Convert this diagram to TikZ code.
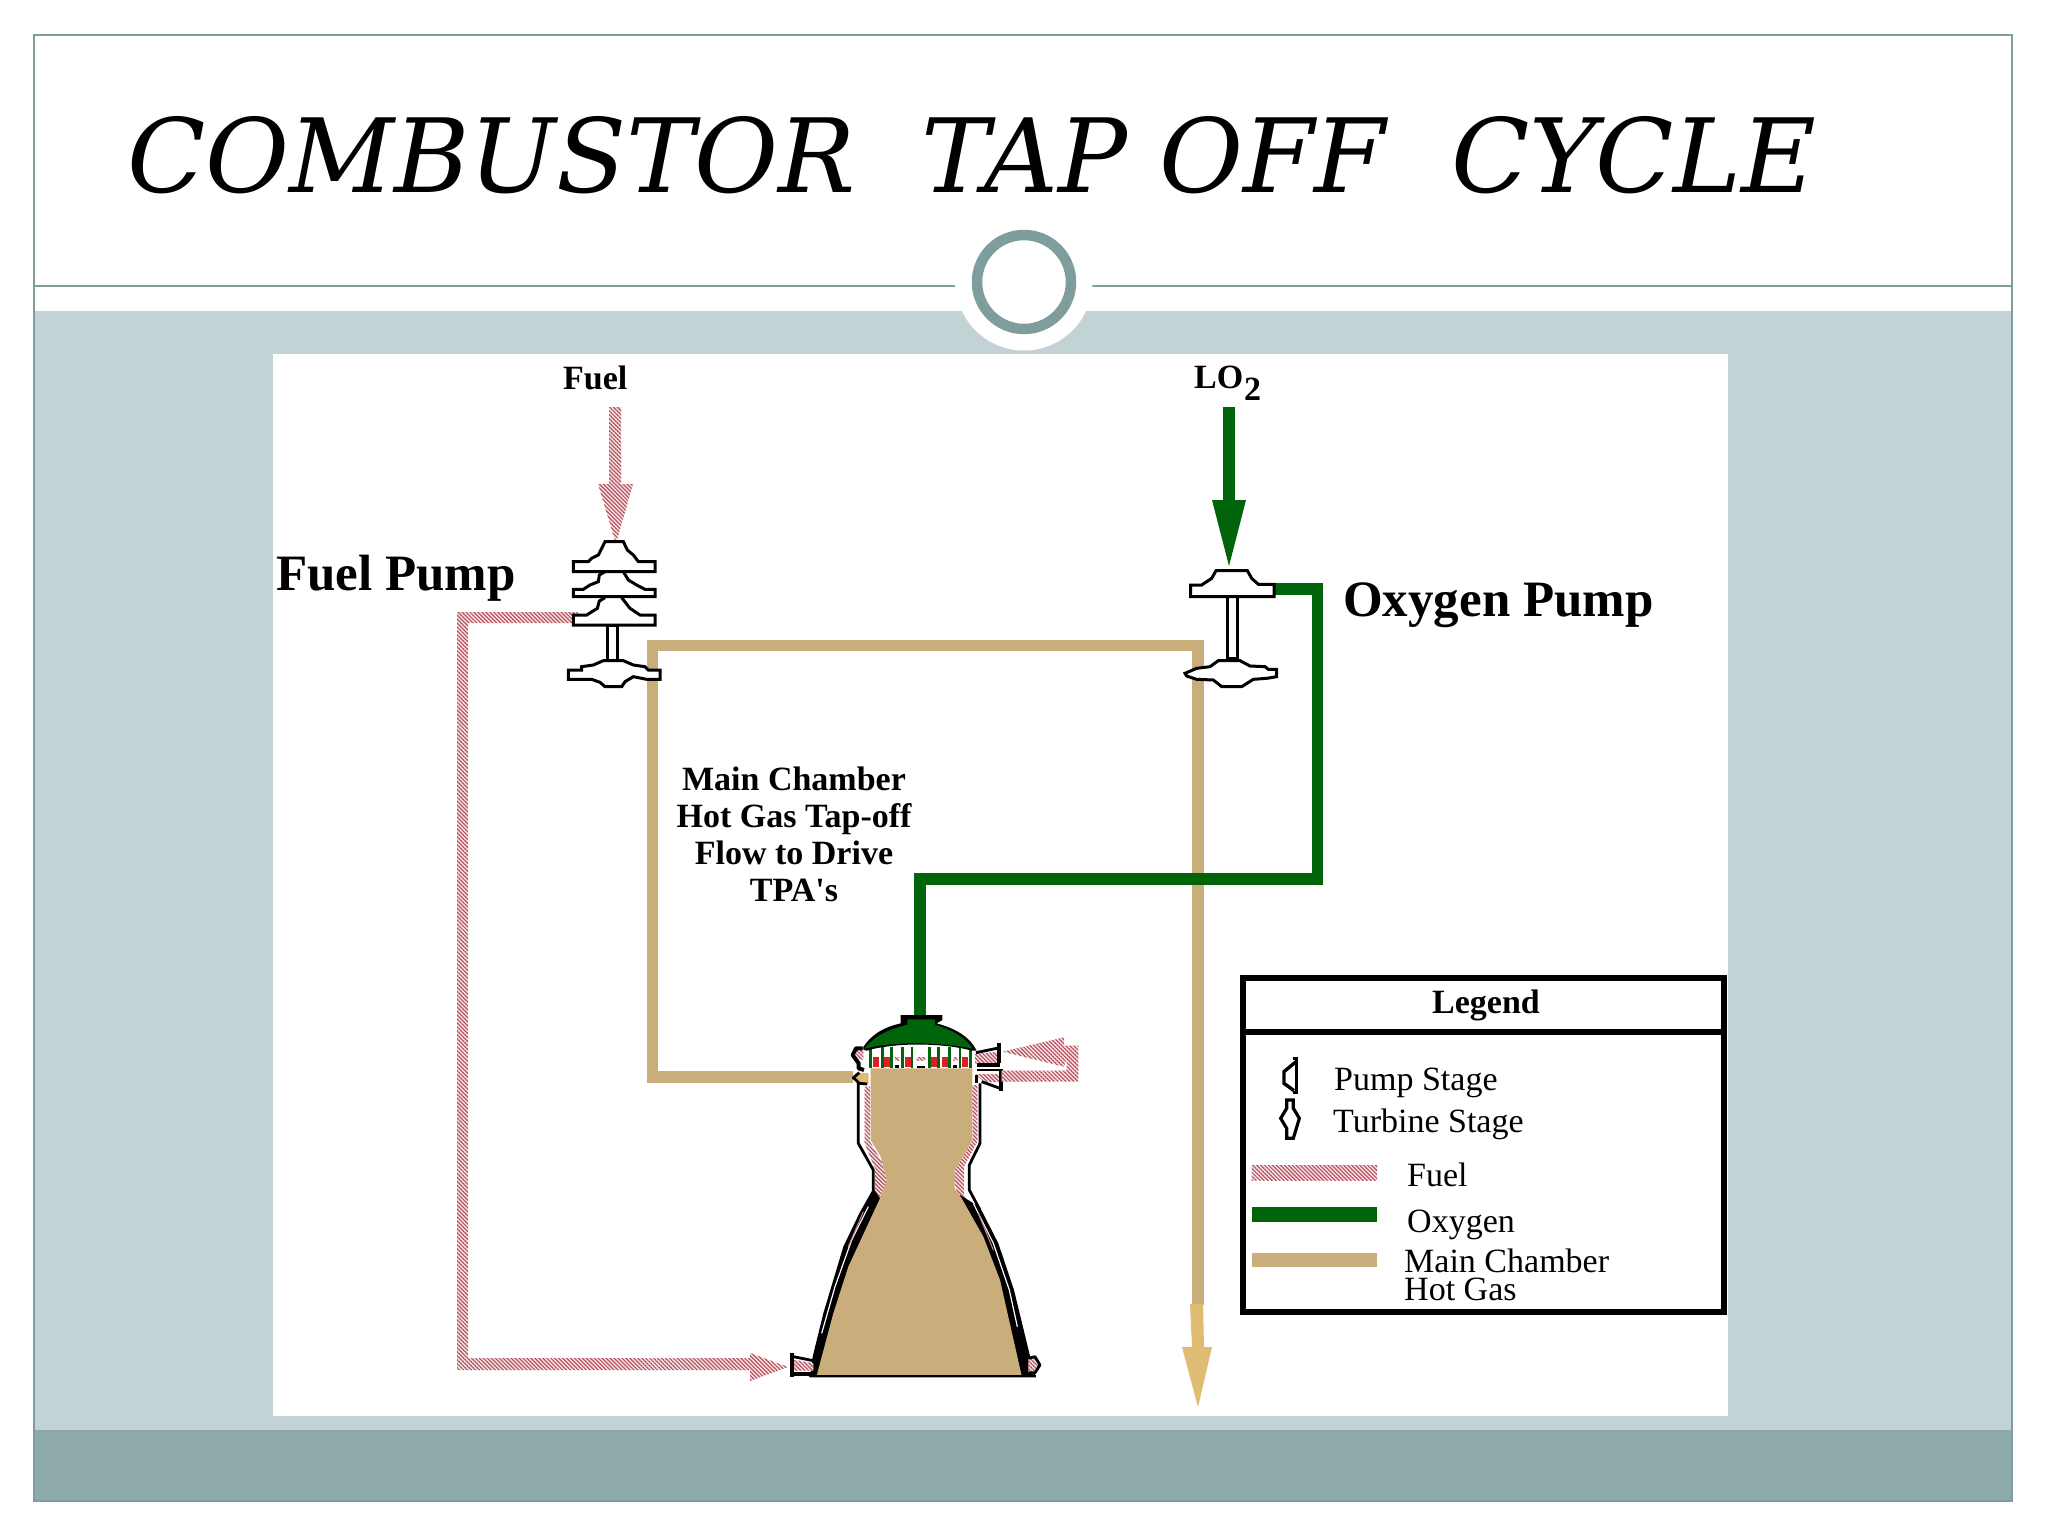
\documentclass[tikz,border=0pt]{standalone}
\usepackage{fontspec}
\usetikzlibrary{patterns.meta}
\setmainfont{Liberation Serif}
\newfontfamily\titlefont{DejaVu Serif}
\newfontfamily\plainserif{Liberation Serif}
\definecolor{framec}{HTML}{7F9D9D}
\definecolor{bandc}{HTML}{C3D2D4}
\definecolor{darkc}{HTML}{8EA9AA}
\definecolor{tanc}{HTML}{C9AE7C}
\definecolor{tanlight}{HTML}{E0BB72}
\definecolor{greenc}{HTML}{00640A}
\definecolor{fuelc}{HTML}{B85060}
\definecolor{fuelbg}{HTML}{F6E6E6}
\definecolor{redc}{HTML}{DC1F26}
\tikzset{
  fuelfill/.style={preaction={fill=fuelbg},pattern={Lines[angle=-45,distance=2.8pt,line width=1.2pt]},pattern color=fuelc},
  oxpipe/.style={draw=greenc,line width=11.5pt,miter limit=10},
  tanpipe/.style={draw=tanc,line width=11.5pt,miter limit=10},
  lab/.style={anchor=base west,inner sep=0pt,text=black},
  bold34/.style={font=\fontsize{34}{37}\selectfont\bfseries},
  bold51/.style={font=\fontsize{51}{56}\selectfont\bfseries},
  reg34/.style={font=\fontsize{34}{37}\selectfont},
  stage/.style={draw=black,fill=white,line width=3pt,line join=miter},
  blk/.style={draw=black,line width=2.8pt,line join=round},
  blkfat/.style={draw=black,line width=4pt,line join=round},
  zoomA/.style={shift={(780,980)},x=0.33333pt,y=-0.33333pt},
}
\begin{document}
\begin{tikzpicture}[x=1pt,y=-1pt]
\useasboundingbox (0,0) rectangle (2048,1536);
\fill[white] (0,0) rectangle (2048,1536);
% slide background
\fill[bandc] (34,311) rectangle (2012,1430);
\fill[darkc] (34,1430) rectangle (2012,1501);
\draw[framec,line width=2pt] (34,35) rectangle (2012,1501);
\coordinate (ruleLa) at (34,286); \coordinate (ruleLb) at (955,286);
\coordinate (ruleRa) at (1092,286); \coordinate (ruleRb) at (2012,286);
\draw[framec,line width=1.6pt] (ruleLa) -- (ruleLb);
\draw[framec,line width=1.6pt] (ruleRa) -- (ruleRb);
\fill[white] (1024,282) circle (68.5);
\draw[draw=framec,line width=10.5pt,fill=white] (1024,282) circle (47);
\node[lab,font=\fontsize{102.5}{112}\selectfont\titlefont\itshape] (title) at (127,192) {COMBUSTOR\ \ TAP OFF\ \ CYCLE};
% white panel
\fill[white] (273,354) rectangle (1728,1416);
% named points of the pipes
\coordinate (fuelIn) at (615,407);
\coordinate (tanA) at (853,1077);
\coordinate (tanB) at (652.5,1077);
\coordinate (tanC) at (652.5,645.5);
\coordinate (tanD) at (1198,645.5);
\coordinate (tanE) at (1198,1305);
\coordinate (oxIn) at (1229,407);
\coordinate (oxHead) at (1229,505);
\coordinate (oxA) at (1272,589);
\coordinate (oxB) at (1317.5,589);
\coordinate (oxC) at (1317.5,879);
\coordinate (oxD) at (920,879);
\coordinate (oxE) at (920,1020);
% hot gas tap-off
\draw[tanpipe] (tanA) -- (tanB) -- (tanC) -- (tanD) -- (tanE);
\fill[tanlight] (1190,1304) -- (1203,1304) -- (1204,1347) -- (1212,1347) -- (1198,1407) -- (1182,1347) -- (1192,1347) -- cycle;
% oxygen
\draw[oxpipe] (oxIn) -- (oxHead);
\fill[greenc] (1212,500) -- (1246,500) -- (1229,566) -- cycle;
\draw[oxpipe] (oxA) -- (oxB) -- (oxC) -- (oxD) -- (oxE);
% fuel
\path[fuelfill] (609,407) -- (621,407) -- (621,484) -- (633,484) -- (616,544) -- (598,484) -- (609,484) -- cycle;
\path[fuelfill] (578,612) -- (578,623) -- (468,623) -- (468,1358) -- (750,1358) -- (750,1353) -- (788,1367) -- (750,1381) -- (750,1370) -- (457,1370) -- (457,612) -- cycle;
% fuel pump
\begin{scope}[shift={(540,520)},x=0.33333pt,y=-0.33333pt]
\path[stage] (195,233) -- (178,243) -- (172,265) -- (140,285) -- (100,285) -- (100,315) -- (345,315) -- (345,285) -- (300,285) -- (270,265) -- (245,233);
\path[stage] (195,155) -- (178,165) -- (175,185) -- (150,195) -- (130,208) -- (100,208) -- (100,230) -- (345,230) -- (345,208) -- (315,208) -- (290,195) -- (265,180) -- (250,155);
\path[stage] (100,155) -- (100,125) -- (145,125) -- (155,115) -- (175,105) -- (185,85) -- (195,65) -- (250,65) -- (262,90) -- (280,105) -- (295,125) -- (345,125) -- (345,155) -- cycle;
\path[stage] (202,315) rectangle (232,425);
\path[stage] (85,450) -- (125,450) -- (125,440) -- (160,435) -- (190,422) -- (250,422) -- (280,435) -- (315,440) -- (325,450) -- (360,450) -- (360,478) -- (320,478) -- (280,470) -- (255,485) -- (245,500) -- (195,500) -- (180,487) -- (155,478) -- (85,478) -- cycle;
\end{scope}
% oxygen pump
\begin{scope}[shift={(1160,540)},x=0.33333pt,y=-0.33333pt]
\path[stage] (202,170) rectangle (232,355);
\path[stage] (92,170) -- (92,135) -- (125,135) -- (140,125) -- (155,115) -- (168,92) -- (262,92) -- (275,115) -- (295,133) -- (342,133) -- (342,170) -- cycle;
\path[stage] (75,400) -- (110,385) -- (150,380) -- (175,362) -- (240,362) -- (270,378) -- (315,380) -- (325,388) -- (350,388) -- (350,410) -- (320,415) -- (280,418) -- (245,440) -- (185,440) -- (160,420) -- (110,418) -- (80,408) -- cycle;
\end{scope}
% thrust chamber
\begin{scope}[zoomA]
% jacket hatching and walls, left
\path[fuelfill] (254,320) -- (270,320) -- (270,485) -- (305,545) -- (320,600) -- (300,655) -- (285,640) -- (285,565) -- (254,490) -- cycle;
\draw[blk] (235,305) -- (235,490) -- (280,570) -- (280,630);
% jacket hatching, right
\path[fuelfill] (577,315) -- (592,315) -- (592,485) -- (552,560) -- (552,645) -- (600,720) -- (570,680) -- (532,640) -- (522,600) -- (525,565) -- (578,480) -- cycle;
\draw[blk] (600,310) -- (600,490) -- (568,555) -- (568,630) -- (600,690);
% nozzle walls
\fill[black] (280,625) -- (238,700) -- (190,800) -- (130,1000) -- (98,1130) -- (90,1192) -- (768,1192) -- (748,1120) -- (702,930) -- (655,790) -- (600,682) -- (540,645) -- (300,655) -- cycle;
\fill[tanc] (272,262) -- (577,262) -- (577,480) -- (524,570) -- (524,625) -- (545,655) -- (610,770) -- (660,900) -- (725,1187) -- (110,1187) -- (160,1000) -- (205,860) -- (300,655) -- (320,600) -- (302,530) -- (272,480) -- cycle;
\draw[white,line width=1.2pt] (265,680) -- (215,780) -- (165,920) -- (125,1060);
\draw[white,line width=1.2pt] (580,670) -- (640,790) -- (688,930) -- (712,1040);
\draw[fuelc!70,line width=1pt] (250,695) -- (205,800);
\draw[fuelc!70,line width=1pt] (595,700) -- (640,810);
% base and exit manifold
\draw[black,line width=2.6pt] (88,1188) -- (768,1188);
\path[fuelfill] (745,1135) -- (765,1130) -- (780,1155) -- (765,1178) -- (745,1178) -- cycle;
\draw[blk] (745,1135) -- (765,1130) -- (780,1155) -- (765,1178) -- (745,1178);
% fuel inlet stub at the nozzle exit
\path[fuelfill] (42,1140) -- (100,1150) -- (100,1172) -- (42,1172) -- cycle;
\draw[blkfat] (35,1118) -- (35,1192);
\draw[blk] (40,1130) -- (100,1142);
\draw[blkfat] (30,1182) -- (100,1182);
% injector
\fill[white] (250,205) -- (582,205) -- (578,265) -- (250,265) -- cycle;
\foreach \a/\b in {280/296,312/335,375/395,452/470,487/505,547/565} \fill[redc] (\a,232) rectangle (\b,262);
\foreach \c in {272,308,335,368,396,448,476,508,540,572} \fill[greenc] (\c-4,200) rectangle (\c+4,265);
\fill[black] (345,255) rectangle (358,265);
\fill[black] (412,257) rectangle (435,265);
\fill[black] (520,255) rectangle (532,265);
\path[fuelfill] (345,232) rectangle (358,240);
\path[fuelfill] (410,232) rectangle (436,240);
\path[fuelfill] (520,232) rectangle (532,240);
% dome
\fill[black] (246,208) .. controls (270,165) and (310,142) .. (362,130) -- (362,105) -- (487,105) -- (487,120) -- (470,130) .. controls (525,145) and (570,170) .. (590,212) -- (575,212) .. controls (500,190) and (350,185) .. (260,212) -- cycle;
\fill[greenc] (254,206) .. controls (280,170) and (320,150) .. (382,134) -- (382,118) -- (465,118) -- (465,134) .. controls (515,150) and (555,170) .. (578,206) .. controls (500,188) and (340,182) .. (254,206) -- cycle;
% left upper manifold
\path[fuelfill] (225,205) -- (250,205) -- (250,240) -- (232,235) -- cycle;
\draw[blkfat] (248,205) -- (228,205) -- (218,225) -- (236,250) -- (236,265) -- (252,270);
% hot gas port
\fill[tanlight] (235,279) -- (266,279) -- (266,309) -- (235,309) -- (220,293) -- cycle;
\draw[blk] (238,278) -- (220,293) -- (238,310) -- (262,312);
% right upper fuel stubs
\path[fuelfill] (585,222) -- (658,215) -- (658,250) -- (585,250) -- cycle;
\path[fuelfill] (588,282) -- (660,282) -- (660,306) -- (612,306) -- cycle;
\draw[blk] (588,218) -- (655,204);
\draw[blkfat] (656,190) -- (656,250);
\draw[blkfat] (590,254) -- (660,254);
\draw[blk] (590,270) -- (660,270);
\draw[blkfat] (662,268) -- (662,333);
\draw[blk] (605,305) -- (660,325);
\draw[blk] (590,310) -- (590,285);
% recirculating fuel feed
\path[fuelfill] (668,215) -- (852,172) -- (852,197) -- (895,197) -- (895,305) -- (665,305) -- (665,272) -- (860,272) -- (860,235) -- (852,260) -- cycle;
\end{scope}
% labels
\node[lab,bold34] (fuelLabel) at (563,389) {Fuel};
\node[lab,bold34] (loLabel) at (1194,388) {LO};
\node[lab,bold34] (loTwo) at (1244,400) {2};
\node[lab,bold51] (fuelPump) at (276,590) {Fuel Pump};
\node[lab,bold51] (oxPump) at (1343,616) {Oxygen Pump};
\node[bold34,align=center,inner sep=0pt] (tapoff) at (794,834) {Main Chamber\\Hot Gas Tap-off\\Flow to Drive\\TPA{\plainserif\bfseries '}s};
% legend
\fill[white] (1243,978) rectangle (1724,1312);
\draw[black,line width=5.5pt] (1243,978) rectangle (1724,1312);
\draw[black,line width=5.5pt] (1243,1032) -- (1724,1032);
\node[bold34,anchor=base,inner sep=0pt] (legendTitle) at (1486,1013) {Legend};
\begin{scope}[shift={(1230,960)},x=0.33333pt,y=-0.33333pt]
\draw[black,line width=3.4pt] (188,296) -- (200,296) -- (200,398) -- (188,398);
\draw[black,line width=3.4pt] (198,305) -- (162,335) -- (162,370) -- (192,392);
\draw[black,line width=3.2pt] (170,420) -- (190,420) -- (190,445) -- (208,475) -- (190,535) -- (170,535) -- (170,505) -- (152,475) -- (170,445) -- cycle;
\path[fuelfill] (65,615) rectangle (441,660);
\fill[greenc] (65,742) rectangle (441,786);
\fill[tanc] (65,878) rectangle (441,922);
\end{scope}
\node[lab,reg34] (lgPump) at (1334,1090) {Pump Stage};
\node[lab,reg34] (lgTurb) at (1333,1132) {Turbine Stage};
\node[lab,reg34] (lgFuel) at (1407,1186) {Fuel};
\node[lab,reg34] (lgOx) at (1407,1232) {Oxygen};
\node[lab,reg34] (lgMain) at (1404,1272) {Main Chamber};
\node[lab,reg34] (lgHot) at (1404,1300) {Hot Gas};
\end{tikzpicture}
\end{document}
